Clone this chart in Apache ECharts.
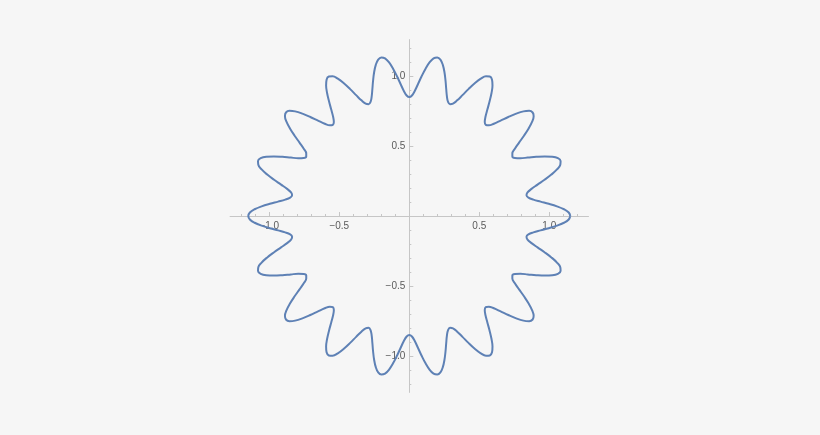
<!DOCTYPE html>
<html><head><meta charset="utf-8">
<script src="https://cdn.jsdelivr.net/npm/echarts@6/dist/echarts.min.js"></script>
<style>html,body{margin:0;padding:0;background:#f6f6f6;}#c{width:820px;height:435px;}</style>
</head><body><div id="c"></div>
<script>
// polar angle (degrees) and radius
const angles = [
0,1.25,2.5,3.75,5,6.25,7.5,8.75,10,11.25,12.5,13.75,15,16.25,17.5,18.75,
20,21.25,22.5,23.75,25,26.25,27.5,28.75,30,31.25,32.5,33.75,35,36.25,37.5,38.75,
40,41.25,42.5,43.75,45,46.25,47.5,48.75,50,51.25,52.5,53.75,55,56.25,57.5,58.75,
60,61.25,62.5,63.75,65,66.25,67.5,68.75,70,71.25,72.5,73.75,75,76.25,77.5,78.75,
80,81.25,82.5,83.75,85,86.25,87.5,88.75,90,91.25,92.5,93.75,95,96.25,97.5,98.75,
100,101.25,102.5,103.75,105,106.25,107.5,108.75,110,111.25,112.5,113.75,115,116.25,117.5,118.75,
120,121.25,122.5,123.75,125,126.25,127.5,128.75,130,131.25,132.5,133.75,135,136.25,137.5,138.75,
140,141.25,142.5,143.75,145,146.25,147.5,148.75,150,151.25,152.5,153.75,155,156.25,157.5,158.75,
160,161.25,162.5,163.75,165,166.25,167.5,168.75,170,171.25,172.5,173.75,175,176.25,177.5,178.75,
180,181.25,182.5,183.75,185,186.25,187.5,188.75,190,191.25,192.5,193.75,195,196.25,197.5,198.75,
200,201.25,202.5,203.75,205,206.25,207.5,208.75,210,211.25,212.5,213.75,215,216.25,217.5,218.75,
220,221.25,222.5,223.75,225,226.25,227.5,228.75,230,231.25,232.5,233.75,235,236.25,237.5,238.75,
240,241.25,242.5,243.75,245,246.25,247.5,248.75,250,251.25,252.5,253.75,255,256.25,257.5,258.75,
260,261.25,262.5,263.75,265,266.25,267.5,268.75,270,271.25,272.5,273.75,275,276.25,277.5,278.75,
280,281.25,282.5,283.75,285,286.25,287.5,288.75,290,291.25,292.5,293.75,295,296.25,297.5,298.75,
300,301.25,302.5,303.75,305,306.25,307.5,308.75,310,311.25,312.5,313.75,315,316.25,317.5,318.75,
320,321.25,322.5,323.75,325,326.25,327.5,328.75,330,331.25,332.5,333.75,335,336.25,337.5,338.75,
340,341.25,342.5,343.75,345,346.25,347.5,348.75,350,351.25,352.5,353.75,355,356.25,357.5,358.75,
360];
const radii = [
1.15,1.139,1.106,1.057,1,0.943,0.894,0.861,0.85,0.861,0.894,0.943,1,1.057,1.106,1.139,
1.15,1.139,1.106,1.057,1,0.943,0.894,0.861,0.85,0.861,0.894,0.943,1,1.057,1.106,1.139,
1.15,1.139,1.106,1.057,1,0.943,0.894,0.861,0.85,0.861,0.894,0.943,1,1.057,1.106,1.139,
1.15,1.139,1.106,1.057,1,0.943,0.894,0.861,0.85,0.861,0.894,0.943,1,1.057,1.106,1.139,
1.15,1.139,1.106,1.057,1,0.943,0.894,0.861,0.85,0.861,0.894,0.943,1,1.057,1.106,1.139,
1.15,1.139,1.106,1.057,1,0.943,0.894,0.861,0.85,0.861,0.894,0.943,1,1.057,1.106,1.139,
1.15,1.139,1.106,1.057,1,0.943,0.894,0.861,0.85,0.861,0.894,0.943,1,1.057,1.106,1.139,
1.15,1.139,1.106,1.057,1,0.943,0.894,0.861,0.85,0.861,0.894,0.943,1,1.057,1.106,1.139,
1.15,1.139,1.106,1.057,1,0.943,0.894,0.861,0.85,0.861,0.894,0.943,1,1.057,1.106,1.139,
1.15,1.139,1.106,1.057,1,0.943,0.894,0.861,0.85,0.861,0.894,0.943,1,1.057,1.106,1.139,
1.15,1.139,1.106,1.057,1,0.943,0.894,0.861,0.85,0.861,0.894,0.943,1,1.057,1.106,1.139,
1.15,1.139,1.106,1.057,1,0.943,0.894,0.861,0.85,0.861,0.894,0.943,1,1.057,1.106,1.139,
1.15,1.139,1.106,1.057,1,0.943,0.894,0.861,0.85,0.861,0.894,0.943,1,1.057,1.106,1.139,
1.15,1.139,1.106,1.057,1,0.943,0.894,0.861,0.85,0.861,0.894,0.943,1,1.057,1.106,1.139,
1.15,1.139,1.106,1.057,1,0.943,0.894,0.861,0.85,0.861,0.894,0.943,1,1.057,1.106,1.139,
1.15,1.139,1.106,1.057,1,0.943,0.894,0.861,0.85,0.861,0.894,0.943,1,1.057,1.106,1.139,
1.15,1.139,1.106,1.057,1,0.943,0.894,0.861,0.85,0.861,0.894,0.943,1,1.057,1.106,1.139,
1.15,1.139,1.106,1.057,1,0.943,0.894,0.861,0.85,0.861,0.894,0.943,1,1.057,1.106,1.139,
1.15];
const minorTicks = [-1.2,-1.1,-1,-0.9,-0.8,-0.7,-0.6,-0.5,-0.4,-0.3,-0.2,-0.1,0.1,0.2,0.3,0.4,0.5,0.6,0.7,0.8,0.9,1,1.1,1.2];
const majorTicks = [-1,-0.5,0.5,1];
const tickLabels = ['\u22121.0','\u22120.5','0.5','1.0'];

const axisColor = '#c6c6c6';
const labelStyle = {color:'#5a5a5a', fontSize:10, fontFamily:'Liberation Sans, Arial, sans-serif'};
function fmt(v){ const i = majorTicks.findIndex(m => Math.abs(m - v) < 1e-6); return i >= 0 ? tickLabels[i] : ''; }

// offsets place the second (labelled) axis at the origin line
function makeAxes(dim, lo, hi, zeroOffset){
  const pos = dim === 'x' ? 'bottom' : 'left';
  return [
    {type:'value', min:lo, max:hi, position:pos,
     axisLine:{show:true, onZero:true, onZeroAxisIndex:0, lineStyle:{color:axisColor, width:1}},
     axisTick:{show:true, inside:true, length:2, customValues:minorTicks, lineStyle:{color:axisColor}},
     axisLabel:{show:false}, splitLine:{show:false}},
    {type:'value', min:lo, max:hi, position:pos, offset:zeroOffset,
     axisLine:{show:false, onZero:false},
     axisTick:{show:true, inside:true, length:4, customValues:majorTicks, lineStyle:{color:axisColor}},
     axisLabel:Object.assign({show:true, customValues:majorTicks, formatter:fmt, margin: dim === 'x' ? 5 : 4}, labelStyle),
     splitLine:{show:false}}
  ];
}

const chart = echarts.init(document.getElementById('c'), null, {renderer:'canvas'});
chart.setOption({
  backgroundColor:'#f6f6f6',
  animation:false,
  grid:{left:230.1, right:231.5, top:39.6, bottom:42.6, containLabel:false},
  xAxis: makeAxes('x', -1.28, 1.28, -176.4),
  yAxis: makeAxes('y', -1.26, 1.26, -179.2),
  polar:{center:[409.3, 216], radius:179.2},
  angleAxis:{type:'value', min:0, max:360, startAngle:0, clockwise:false, show:false},
  radiusAxis:{type:'value', min:0, max:1.28, show:false},
  series:[{
    type:'line', coordinateSystem:'polar',
    data: angles.map((a, i) => [radii[i], a]),
    showSymbol:false, smooth:0.4, silent:true,
    lineStyle:{color:'#5e81b5', width:2}
  }]
});
</script>
</body></html>
